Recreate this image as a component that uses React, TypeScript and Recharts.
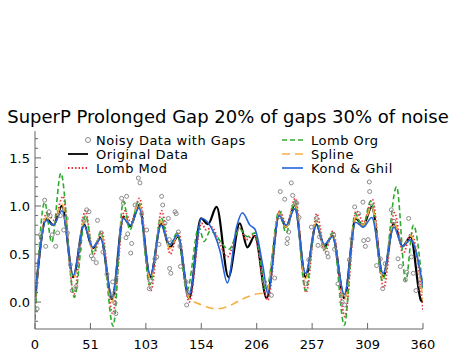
import React from 'react';
import { ComposedChart, Line, Scatter, XAxis, YAxis } from 'recharts';

const FONT = '"DejaVu Sans", sans-serif';
const AXIS = '#666666';

const titleText = 'SuperP Prolonged Gap 20% of gaps 30% of noise';
const xTicks = [0, 51.43, 102.86, 154.29, 205.71, 257.14, 308.57, 360];
const yMajorTicks = [0, 0.5, 1.0, 1.5];
const yAllTicks = [-0.2, -0.1, 0, 0.1, 0.2, 0.3, 0.4, 0.5, 0.6, 0.7, 0.8, 0.9, 1.0, 1.1, 1.2, 1.3, 1.4, 1.5, 1.6, 1.7];

const pts = (a: number[][]) => a.map(([x, y]) => ({ x, y }));

const noisyData = pts([
  [0.6, 0.39], [1, 0.2], [2, -0.07], [5, 0.7], [9, 1.06], [9.9, 0.58], [13, 0.94], [14, 0.9], [16, 0.7],
  [19.2, 0.58], [21, 0.72], [23.5, 0.9], [26.6, 0.75], [29, 0.87], [30, 0.72], [32.8, 0.39], [34.6, 0.12],
  [38, 0.16], [41.4, 0.55], [45.2, 0.85], [48, 0.96], [50.1, 0.94], [52.3, 0.48], [54, 0.45], [56.9, 0.41],
  [58, 0.85], [61.5, 0.72], [63, 0.52], [66.8, 0.29], [70.8, 0.06], [72.1, 0.21], [73, 0.09], [74.2, -0.01],
  [75, -0.12], [80.4, 1.08], [82, 1.03], [84.4, 0.67], [85, 1.1], [86, 0.71], [88.8, 0.51], [89.7, 0.61],
  [92.8, 1.01], [95.9, 1.29], [97.4, 1.24], [99, 0.92], [103.6, 0.75], [106, 0.14], [107, 0.22], [111.3, 0.45],
  [113, 0.47], [115, 0.6], [117.5, 1.1], [118.5, 1.01], [120.6, 0.82], [123.7, 0.87], [124.6, 0.65], [124.9, 0.35],
  [126, 0.3], [129.9, 0.94], [131, 0.92], [133, 0.73], [134.5, 0.58], [135, 0.37], [140.2, 0.21], [140.7, -0.03],
  [142, 0.1],
  [213, 0.21], [219.3, 0.07], [222.4, 0.25], [226.7, 0.89], [227.6, 1.15], [231.7, 1.07], [233.8, 0.61], [234.3, 0.66],
  [235.4, 0.73], [237.8, 1.24], [239.1, 1.11], [241.5, 1.03], [243, 1.03], [245, 0.88], [250.8, 0.19], [254, 0.44],
  [256.4, 0.78], [261, 0.87], [262.6, 0.59], [264, 0.68], [267.2, 0.58], [271, 0.51], [272, 0.47], [277.1, 0.7],
  [278, 0.55], [281.1, 0.19], [284.2, 0.07], [285, 0.0], [287.3, -0.03], [291.6, 0.44], [294.1, 0.66], [296.6, 0.99],
  [300.3, 0.92], [304.3, 1.04], [305, 0.64], [306.5, 0.58], [309, 0.65], [310.2, 1.25], [310.5, 1.15], [313, 1.0],
  [317, 0.38], [320.4, 0.45], [322.6, 0.14], [325, 0.4], [330.6, 0.96], [333, 0.84], [336.8, 0.45], [339, 0.37],
  [343.6, 0.23], [345, 0.31], [346.7, 0.87], [349.2, 0.47], [351, 0.3], [353.5, 0.12], [357.5, 0.18],
]);

const originalData = pts([
  [0, 0.02], [10.5, 0.87], [17, 0.8], [25, 1.0], [35.5, 0.26], [45.5, 0.81], [53.5, 0.56], [61, 0.67], [71.5, 0.03],
  [82, 0.89], [88.5, 0.79], [96.5, 1.01], [107, 0.26], [117, 0.82], [125, 0.57], [132.5, 0.68], [143, 0.04],
  [154, 0.87], [160.5, 0.81], [168.5, 0.99], [179.5, 0.26], [190, 0.82], [197, 0.57], [204, 0.69], [215, 0.04],
  [226.5, 0.91], [233, 0.78], [241, 1.01], [251, 0.26], [261, 0.81], [268.5, 0.58], [276, 0.69], [287, 0.04],
  [297.5, 0.87], [304.5, 0.8], [312.5, 0.99], [323, 0.26], [333, 0.82], [341, 0.58], [348.5, 0.68], [358, 0.02], [360, 0.0],
]);

const lombModData = pts([
  [0, -0.05], [11, 0.93], [17.5, 0.85], [26, 1.1], [36, 0.08], [46.5, 0.95], [54.5, 0.5], [62, 0.73], [72, -0.12],
  [83, 0.95], [89, 0.83], [97, 1.08], [107.5, 0.12], [117.5, 0.95], [125.5, 0.5], [133, 0.73], [143, 0.0],
  [154.5, 0.82], [159, 0.75], [164, 0.78], [171, 0.62], [178.5, 0.47], [190, 0.77], [196, 0.65], [203, 0.7], [216, 0.02],
  [227, 0.95], [233.5, 0.8], [241.5, 1.08], [251.5, 0.1], [261.5, 0.92], [269, 0.52], [276.5, 0.74], [287.5, -0.15],
  [298, 0.95], [305, 0.83], [313, 1.07], [323.5, 0.15], [333.5, 0.93], [341.5, 0.5], [349, 0.72], [360, -0.08],
]);

const lombOrgData = pts([
  [0, -0.18], [9, 1.04], [15.5, 0.62], [24, 1.34], [36.5, 0.05], [47, 0.9], [54, 0.5], [61, 0.73], [72.5, -0.25],
  [82, 1.05], [88, 0.75], [96, 1.05], [106.5, 0.18], [117, 0.88], [124.5, 0.58], [132, 0.72], [141, 0.12],
  [152, 0.78], [157, 0.63], [162.5, 0.74], [180, 0.55], [190, 0.76], [197, 0.68], [204, 0.72], [214.5, 0.12],
  [226.5, 0.95], [233, 0.72], [241, 1.05], [251, 0.12], [261, 0.85], [268.5, 0.55], [276, 0.72], [287, -0.24],
  [297, 0.92], [304, 0.78], [311.5, 1.05], [322.5, 0.22], [335.5, 1.2], [344, 0.22], [351, 0.8], [360, 0.1],
]);

const splineData = pts([
  [0, 0.03], [10.5, 0.88], [17, 0.8], [25, 1.02], [35.5, 0.24], [45.5, 0.84], [53.5, 0.55], [61, 0.69], [71.5, 0.0],
  [82, 0.9], [88.5, 0.79], [96.5, 1.03], [107, 0.24], [117, 0.84], [125, 0.56], [132.5, 0.69], [143, 0.04],
  [155, -0.03], [168, -0.07], [180, -0.04], [192, 0.03], [204, 0.08], [215, 0.1],
  [226.5, 0.92], [233, 0.78], [241, 1.02], [251, 0.24], [261, 0.83], [268.5, 0.57], [276, 0.7], [287, 0.02],
  [297.5, 0.88], [304.5, 0.8], [312.5, 1.0], [323, 0.25], [333, 0.83], [341, 0.57], [348.5, 0.69], [360, 0.02],
]);

const kondData = pts([
  [0, 0.05], [10.5, 0.85], [17, 0.8], [25, 0.95], [35.5, 0.28], [45.5, 0.8], [53.5, 0.57], [61, 0.66], [71.5, 0.05],
  [82, 0.87], [88.5, 0.8], [96.5, 0.98], [107, 0.28], [117, 0.8], [125, 0.6], [132.5, 0.7], [143, 0.08],
  [154.5, 0.87], [161, 0.82], [171.5, 0.54], [178.5, 0.2], [187, 0.78], [192.5, 0.93], [199.5, 0.8], [204, 0.76], [211.5, 0.37], [216, 0.09],
  [226.5, 0.9], [233, 0.8], [241, 0.97], [251, 0.3], [261, 0.8], [268.5, 0.6], [276, 0.68], [287, 0.08],
  [297.5, 0.83], [304.5, 0.78], [312.5, 0.88], [323, 0.3], [333, 0.78], [341, 0.58], [348.5, 0.65], [360, 0.16],
]);

const series = [
  { name: 'Original Data', data: originalData, color: '#000000', width: 2.2, dash: undefined as string | undefined },
  { name: 'Lomb Mod', data: lombModData, color: '#e8323a', width: 1.8, dash: '1.5 2' },
  { name: 'Lomb Org', data: lombOrgData, color: '#2eaa2e', width: 1.6, dash: '5 3' },
  { name: 'Spline', data: splineData, color: '#f5b041', width: 1.6, dash: '8 5' },
  { name: 'Kond & Ghil', data: kondData, color: '#2463d8', width: 1.6, dash: undefined as string | undefined },
];

const isMajor = (v: number) => yMajorTicks.some((m) => Math.abs(m - v) < 1e-6);

const LeftTick = (p: any) => {
  const v = p.payload.value;
  const major = isMajor(v);
  return (
    <g>
      <line x1={p.x} x2={p.x + (major ? 6 : 3)} y1={p.y} y2={p.y} stroke={AXIS} />
      {major && (
        <text x={p.x - 5} y={p.y + 5} textAnchor="end" fontSize={13} fontFamily={FONT} fill="#000">
          {v.toFixed(1)}
        </text>
      )}
    </g>
  );
};

const RightTick = (p: any) => {
  const major = isMajor(p.payload.value);
  return <line x1={p.x} x2={p.x - (major ? 6 : 3)} y1={p.y} y2={p.y} stroke={AXIS} />;
};

const BottomTick = (p: any) => (
  <g>
    <line x1={p.x} x2={p.x} y1={p.y} y2={p.y - 6} stroke={AXIS} />
    <text x={p.x} y={p.y + 20} textAnchor="middle" fontSize={13} fontFamily={FONT} fill="#000">
      {Math.round(p.payload.value)}
    </text>
  </g>
);

const TopTick = (p: any) => <line x1={p.x} x2={p.x} y1={p.y} y2={p.y + 6} stroke={AXIS} />;

const Circle = (p: any) => <circle cx={p.cx} cy={p.cy} r={2} fill="none" stroke="#8a8a8a" strokeWidth={1} />;

const legendLeft = [
  { label: 'Noisy Data with Gaps', kind: 'circle' },
  { label: 'Original Data', kind: 0 },
  { label: 'Lomb Mod', kind: 1 },
];
const legendRight = [
  { label: 'Lomb Org', kind: 2 },
  { label: 'Spline', kind: 3 },
  { label: 'Kond & Ghil', kind: 4 },
];

const LegendItem = ({ item, x1, x2, tx, cy }: any) => {
  const s = typeof item.kind === 'number' ? series[item.kind] : null;
  return (
    <g>
      {s ? (
        <line x1={x1} x2={x2} y1={cy} y2={cy} stroke={s.color} strokeWidth={Math.min(s.width, 1.8)} strokeDasharray={s.dash} />
      ) : (
        <circle cx={x2} cy={cy} r={2.5} fill="none" stroke="#8a8a8a" strokeWidth={1} />
      )}
      <text x={tx} y={cy + 4.5} fontSize={13} letterSpacing={0.5} fontFamily={FONT} fill="#000">
        {item.label}
      </text>
    </g>
  );
};

export default function App() {
  const rows = [140, 154, 168];
  return (
    <div style={{ position: 'absolute', left: 0, top: 0, width: 474, height: 356, background: '#fff' }}>
      <ComposedChart width={474} height={356} margin={{ top: 131, right: 51, bottom: 0, left: 0 }}>
        <XAxis
          xAxisId="b"
          dataKey="x"
          type="number"
          domain={[0, 360]}
          ticks={xTicks}
          interval={0}
          allowDataOverflow
          height={27}
          tickSize={0}
          tickMargin={0}
          tickLine={false}
          axisLine={{ stroke: AXIS }}
          tick={<BottomTick />}
        />
        <XAxis
          xAxisId="t"
          orientation="top"
          dataKey="x"
          type="number"
          domain={[0, 360]}
          ticks={xTicks}
          interval={0}
          allowDataOverflow
          height={0}
          tickSize={0}
          tickMargin={0}
          tickLine={false}
          axisLine={{ stroke: AXIS }}
          tick={<TopTick />}
        />
        <YAxis
          yAxisId="l"
          dataKey="y"
          type="number"
          domain={[-0.28, 1.78]}
          ticks={yAllTicks}
          interval={0}
          allowDataOverflow
          width={35}
          tickSize={0}
          tickMargin={0}
          tickLine={false}
          axisLine={{ stroke: AXIS }}
          tick={<LeftTick />}
        />
        <YAxis
          yAxisId="r"
          orientation="right"
          type="number"
          domain={[-0.28, 1.78]}
          ticks={yAllTicks}
          interval={0}
          allowDataOverflow
          width={0}
          tickSize={0}
          tickMargin={0}
          tickLine={false}
          axisLine={{ stroke: AXIS }}
          tick={<RightTick />}
        />
        <Scatter
          xAxisId="b"
          yAxisId="l"
          data={noisyData}
          dataKey="y"
          shape={<Circle />}
          isAnimationActive={false}
        />
        {series.map((s) => (
          <Line
            key={s.name}
            xAxisId="b"
            yAxisId="l"
            data={s.data}
            dataKey="y"
            type="monotone"
            stroke={s.color}
            strokeWidth={s.width}
            strokeDasharray={s.dash}
            dot={false}
            activeDot={false}
            isAnimationActive={false}
          />
        ))}
      </ComposedChart>
      <svg width={474} height={356} style={{ position: 'absolute', left: 0, top: 0, pointerEvents: 'none' }}>
        <text x={228} y={123} textAnchor="middle" fontSize={18} fontFamily={FONT} fill="#000">
          {titleText}
        </text>
        {legendLeft.map((it, i) => (
          <LegendItem key={it.label} item={it} x1={68} x2={88} tx={96} cy={rows[i]} />
        ))}
        {legendRight.map((it, i) => (
          <LegendItem key={it.label} item={it} x1={282} x2={303} tx={311} cy={rows[i]} />
        ))}
      </svg>
    </div>
  );
}
